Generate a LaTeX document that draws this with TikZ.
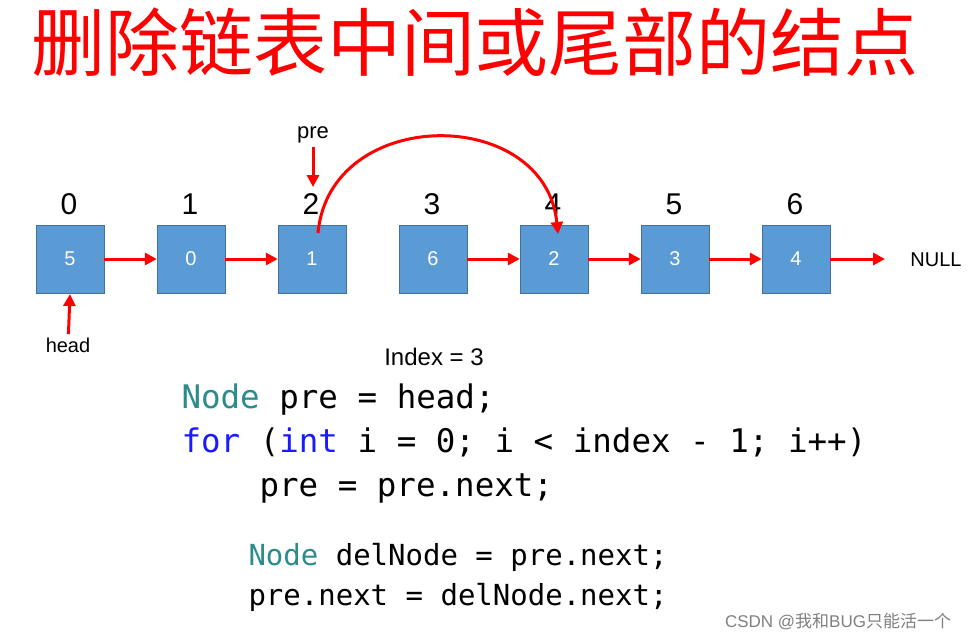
\documentclass[tikz,border=0pt]{standalone}
\usepackage{fontspec}
\setmainfont{Liberation Sans}
\setmonofont{DejaVu Sans Mono}
\newfontfamily\cjk{Noto Sans CJK SC}
\usetikzlibrary{calc,arrows.meta}
\definecolor{boxblue}{HTML}{5B9BD5}
\definecolor{boxline}{HTML}{41719C}
\definecolor{linkred}{HTML}{FF0000}
\definecolor{kwteal}{HTML}{2B8C8C}
\definecolor{kwblue}{HTML}{1A1AFF}
\tikzset{
  cell/.style={draw=boxline,fill=boxblue,minimum size=68pt,inner sep=0pt,text=white,font=\fontsize{20}{22}\selectfont},
  link/.style={draw=linkred,line width=3pt,-{Triangle[length=12pt,width=12pt]}},
  idx/.style={font=\fontsize{30}{32}\selectfont},
  code/.style={anchor=west,font=\ttfamily\fontsize{32.5}{34}\selectfont},
}
\begin{document}
\begin{tikzpicture}[x=1pt,y=-1pt]
		\useasboundingbox (0,0) rectangle (980,641);
		\node[text=linkred,font=\cjk\fontsize{74}{78}\selectfont] (title) at (475,42) {删除链表中间或尾部的结点};
		\foreach \v [count=\i from 0] in {5,0,1,6,2,3,4} {
			\pgfmathsetmacro\xc{70+121*\i}
			\node[cell] (c\i) at (\xc,259) {\v};
			\node[idx] (n\i) at (\xc-1,204) {\i};
		}
		\node (null) at (936,260) {\fontsize{20}{22}\selectfont NULL};
		\coordinate (nulltip) at (885,259);
		\foreach \a/\b in {c0/c1,c1/c2,c3/c4,c4/c5,c5/c6} \draw[link] (\a) -- (\b);
		\draw[link] (c6) -- (nulltip);
		\node[font=\fontsize{22}{24}\selectfont] (pre) at (313,135) {pre};
		\coordinate (pretip) at (313,187);
		\draw[link] (pre) -- (pretip);
		\node[font=\fontsize{20}{22}\selectfont] (head) at (68,345) {head};
		\coordinate (headtip) at (70,294);
		\draw[link] (head) -- (headtip);
		\coordinate (arcA) at (318,233);
		\coordinate (arcB) at (558,234);
		\draw[link] (arcA) .. controls (330,105) and (545,105) .. (arcB);
		\node[font=\fontsize{24}{26}\selectfont] (index) at (434,357) {Index = 3};
		\node[code] (l1) at (178,400) {\textcolor{kwteal}{Node} pre = head;};
		\node[code] (l2) at (178,442) {\textcolor{kwblue}{for} (\textcolor{kwblue}{int} i = 0; i < index - 1; i++)};
		\node[code] (l3) at (256,488) {pre = pre.next;};
		\node[code,font=\ttfamily\fontsize{29}{30}\selectfont] (l4) at (245,557) {\textcolor{kwteal}{Node} delNode = pre.next;};
		\node[code,font=\ttfamily\fontsize{29}{30}\selectfont] (l5) at (245,597) {pre.next = delNode.next;};
		\node[text=gray,font=\fontsize{17}{19}\selectfont] (mark) at (838,622) {CSDN @{\cjk 我和}BUG{\cjk 只能活一个}};
	\end{tikzpicture}
\end{document}
